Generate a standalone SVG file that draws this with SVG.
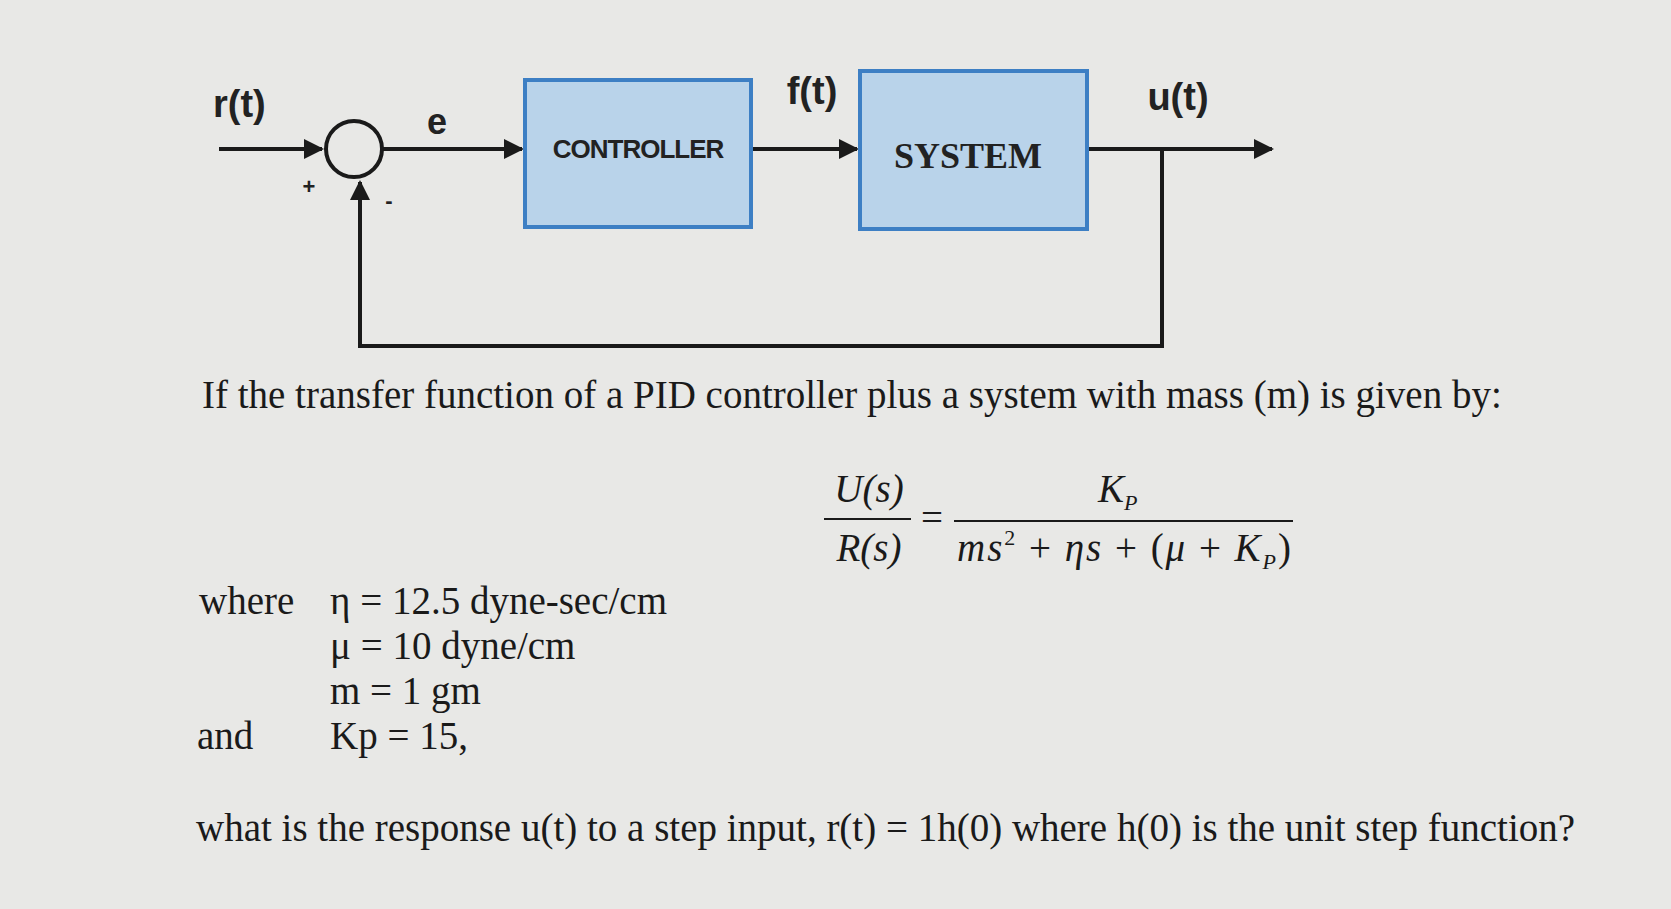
<svg xmlns="http://www.w3.org/2000/svg" width="1671" height="909" viewBox="0 0 1671 909">
<style>
.lbl{font-family:"Liberation Sans",Arial,sans-serif;font-weight:bold;fill:#222}
.ser{font-family:"Liberation Serif","Times New Roman",serif;fill:#1a1a1a;font-size:39px}
.it{font-style:italic}
.box{fill:#b9d3ea;stroke:#3d7fc4;stroke-width:4}
.ln{stroke:#1a1a1a;stroke-width:4;fill:none}
</style>
<defs>
<marker id="ar" viewBox="0 0 10 10" refX="9" refY="5" markerWidth="6" markerHeight="5" orient="auto" markerUnits="strokeWidth"><path d="M0,0L10,5L0,10z" fill="#1a1a1a"/></marker>
</defs>
<rect width="1671" height="909" fill="#e8e8e6"/>
<g id="connectors">
<line class="ln" x1="219" y1="149" x2="322" y2="149" marker-end="url(#ar)"/>
<line class="ln" x1="383" y1="149" x2="522" y2="149" marker-end="url(#ar)"/>
<line class="ln" x1="751" y1="149" x2="857" y2="149" marker-end="url(#ar)"/>
<line class="ln" x1="1087" y1="149" x2="1272" y2="149" marker-end="url(#ar)"/>
<polyline class="ln" points="1162,149 1162,346 360,346 360,182" marker-end="url(#ar)"/>
</g>
<g id="sum"><circle cx="354" cy="149" r="28" fill="none" stroke="#1a1a1a" stroke-width="4"/>
<text class="lbl" x="309" y="194" font-size="22" text-anchor="middle">+</text>
<text class="lbl" x="389" y="208" font-size="22" text-anchor="middle">-</text></g>
<g id="labels">
<text class="lbl" x="213" y="117" font-size="38">r(t)</text>
<text class="lbl" x="437" y="134" font-size="36" text-anchor="middle">e</text>
<text class="lbl" x="812" y="104" font-size="38" text-anchor="middle">f(t)</text>
<text class="lbl" x="1178" y="110" font-size="38" text-anchor="middle">u(t)</text>
</g>
<g id="controller"><rect class="box" x="525" y="80" width="226" height="147"/>
<text class="lbl" x="638" y="158" font-size="26" text-anchor="middle" letter-spacing="-1">CONTROLLER</text></g>
<g id="system"><rect class="box" x="860" y="71" width="227" height="158"/>
<text x="968" y="168" font-size="36" font-weight="bold" text-anchor="middle" font-family="Liberation Serif,serif" fill="#222">SYSTEM</text></g>
<g id="text">
<text class="ser" x="202" y="408">If the transfer function of a PID controller plus a system with mass (m) is given by:</text>
<text class="ser it" x="869" y="502" text-anchor="middle">U(s)</text>
<line x1="824" y1="519" x2="911" y2="519" stroke="#1a1a1a" stroke-width="2"/>
<text class="ser it" x="869" y="561" text-anchor="middle">R(s)</text>
<text class="ser" x="932" y="531" text-anchor="middle">=</text>
<text class="ser it" x="1098" y="502">K<tspan font-size="22" dy="8">P</tspan></text>
<line x1="954" y1="521" x2="1293" y2="521" stroke="#1a1a1a" stroke-width="2"/>
<text class="ser" x="957" y="561" textLength="334" lengthAdjust="spacing"><tspan class="it">ms</tspan><tspan font-size="22" dy="-16">2</tspan><tspan dy="16"> + </tspan><tspan class="it">ηs</tspan> + (<tspan class="it">μ</tspan> + <tspan class="it">K</tspan><tspan font-size="22" dy="8" class="it">P</tspan><tspan dy="-8">)</tspan></text>
<text class="ser" x="199" y="614">where</text>
<text class="ser" x="330" y="614">η = 12.5 dyne-sec/cm</text>
<text class="ser" x="330" y="659">μ = 10 dyne/cm</text>
<text class="ser" x="330" y="704">m = 1 gm</text>
<text class="ser" x="197" y="749">and</text>
<text class="ser" x="330" y="749">Kp = 15,</text>
<text class="ser" x="196" y="841">what is the response u(t) to a step input, r(t) = 1h(0) where h(0) is the unit step function?</text>
</g>
</svg>
